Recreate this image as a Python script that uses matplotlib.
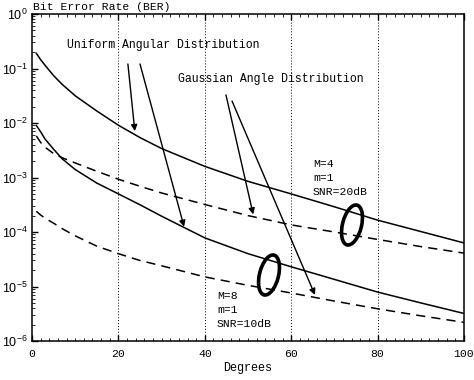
import matplotlib
matplotlib.use("Agg")
import matplotlib.pyplot as plt
from matplotlib.patches import Ellipse
from matplotlib.ticker import LogLocator, MultipleLocator, FixedLocator, FixedFormatter, NullFormatter

plt.rcParams["font.family"] = ["Liberation Mono", "DejaVu Sans"]
plt.rcParams["mathtext.fontset"] = "custom"
plt.rcParams["mathtext.rm"] = "Liberation Sans"
plt.rcParams["mathtext.it"] = "Liberation Sans"

# degrees at which the curves were read
deg = [1, 2, 3, 5, 7, 10, 15, 20, 25, 30, 40, 50, 60, 70, 80, 90, 100]

# Uniform angular distribution, M=4, SNR=20dB
uni_m4 = [0.19, 0.145, 0.115, 0.074, 0.051, 0.0316, 0.0166, 0.0091, 0.0054, 0.0034,
          0.0016, 8.5e-4, 5.0e-4, 2.9e-4, 1.65e-4, 1.02e-4, 6.3e-5]
# Gaussian angle distribution, M=4, SNR=20dB
gau_m4 = [5.8e-3, 4.4e-3, 3.6e-3, 2.75e-3, 2.3e-3, 1.85e-3, 1.3e-3, 9.3e-4, 6.9e-4, 5.2e-4,
          3.2e-4, 2.0e-4, 1.35e-4, 1.0e-4, 7.3e-5, 5.4e-5, 4.1e-5]
# Uniform angular distribution, M=8, SNR=10dB
uni_m8 = [9.0e-3, 6.9e-3, 5.1e-3, 3.3e-3, 2.2e-3, 1.4e-3, 7.9e-4, 5.0e-4, 3.16e-4, 1.95e-4,
          7.8e-5, 4.0e-5, 2.3e-5, 1.35e-5, 7.9e-6, 5.0e-6, 3.2e-6]
# Gaussian angle distribution, M=8, SNR=10dB
gau_m8 = [2.4e-4, 2.05e-4, 1.8e-4, 1.45e-4, 1.15e-4, 8.5e-5, 5.5e-5, 4.0e-5, 3.0e-5, 2.4e-5,
          1.5e-5, 1.05e-5, 7.6e-6, 5.4e-6, 3.9e-6, 2.9e-6, 2.2e-6]

xticks = [0, 20, 40, 60, 80, 100]
yticks = [1e-6, 1e-5, 1e-4, 1e-3, 1e-2, 1e-1, 1]
ylabels = [r"$10^{-6}$", r"$10^{-5}$", r"$10^{-4}$", r"$10^{-3}$", r"$10^{-2}$",
           r"$10^{-1}$", r"$10^{0}$"]
grid_x = [20, 40, 60, 80]

fig = plt.figure(figsize=(4.74, 3.8), dpi=100)
ax = fig.add_axes([32 / 474, 1 - 341 / 380, 432 / 474, 327 / 380])

for g in grid_x:
    ax.axvline(g, color="k", ls=(0, (1, 2)), lw=0.7, zorder=1)

ax.plot(deg, uni_m4, color="k", lw=1.1)
ax.plot(deg, uni_m8, color="k", lw=1.1)
ax.plot(deg, gau_m4, color="k", lw=1.1, ls=(0, (6, 4)))
ax.plot(deg, gau_m8, color="k", lw=1.1, ls=(0, (6, 4)))

ax.set_yscale("log")
ax.set_xlim(0, 100)
ax.set_ylim(1e-6, 1)
ax.xaxis.set_major_locator(FixedLocator(xticks))
ax.xaxis.set_minor_locator(MultipleLocator(2))
ax.yaxis.set_major_locator(FixedLocator(yticks))
ax.yaxis.set_major_formatter(FixedFormatter(ylabels))
ax.yaxis.set_minor_locator(LogLocator(base=10, subs=[2, 3, 4, 5, 6, 7, 8, 9], numticks=20))
ax.yaxis.set_minor_formatter(NullFormatter())
ax.tick_params(which="major", direction="in", length=4, width=1, top=True)
ax.tick_params(which="minor", direction="in", length=2, width=0.6, top=True)
ax.tick_params(axis="x", pad=6, labelsize=8.2)
ax.tick_params(axis="y", pad=3, labelsize=9)
for s in ax.spines.values():
    s.set_linewidth(1.1)

ax.set_xlabel("Degrees", fontsize=8.5, labelpad=2)
fig.text(33 / 474, 1 - 7 / 380, "Bit Error Rate (BER)", fontsize=8.2, va="center")

fig.text(67 / 474, 1 - 45 / 380, "Uniform Angular Distribution", fontsize=8.3, va="center")
fig.text(178 / 474, 1 - 79 / 380, "Gaussian Angle Distribution", fontsize=8.3, va="center")
fig.text(313 / 474, 1 - 178 / 380, "M=4\nm=1\nSNR=20dB", fontsize=8.2, va="center",
         linespacing=1.55)
fig.text(217 / 474, 1 - 310 / 380, "M=8\nm=1\nSNR=10dB", fontsize=8.2, va="center",
         linespacing=1.55)

arrow = dict(arrowstyle="-|>", color="k", lw=1.0, mutation_scale=9, shrinkA=0, shrinkB=0)
ax.annotate("", xy=(23.8, 7.1e-3), xytext=(22.2, 0.121), arrowprops=arrow)
ax.annotate("", xy=(35.2, 1.25e-4), xytext=(25.0, 0.121), arrowprops=arrow)
ax.annotate("", xy=(51.2, 2.1e-4), xytext=(44.9, 0.0327), arrowprops=arrow)
ax.annotate("", xy=(65.5, 7.0e-6), xytext=(46.3, 0.0253), arrowprops=arrow)

# hand-drawn loops grouping each solid/dashed pair
for cx, cy in [(352, 225), (269, 275)]:
    e = Ellipse((cx / 100, (380 - cy) / 100), 0.19, 0.41, angle=-14,
                transform=fig.dpi_scale_trans, fill=False, lw=2.6, color="k")
    fig.patches.append(e)

fig.savefig("out.png", dpi=100)
